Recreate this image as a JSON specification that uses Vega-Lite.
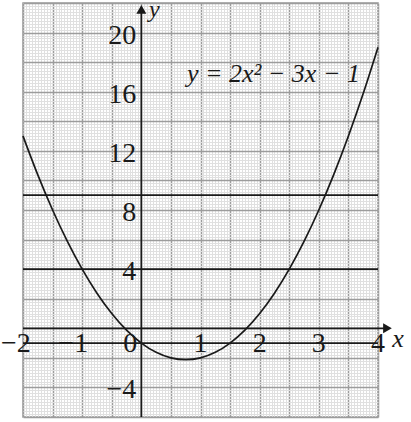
{
  "$schema": "https://vega.github.io/schema/vega-lite/v6.json",
  "width": 355,
  "height": 414,
  "autosize": "none",
  "padding": {"left": 23, "top": 3, "right": 33, "bottom": 5},
  "background": "white",
  "config": {
    "view": {"stroke": "#9c9c9c", "strokeWidth": 1.5},
    "font": "Liberation Serif"
  },
  "data": {"values": [{}]},
  "datasets": {
    "curve": [
      {"x": -2, "y": 13}, {"x": -1.75, "y": 10.375}, {"x": -1.5, "y": 8}, {"x": -1.25, "y": 5.875},
      {"x": -1, "y": 4}, {"x": -0.75, "y": 2.375}, {"x": -0.5, "y": 1}, {"x": -0.25, "y": -0.125},
      {"x": 0, "y": -1}, {"x": 0.25, "y": -1.625}, {"x": 0.5, "y": -2}, {"x": 0.75, "y": -2.125},
      {"x": 1, "y": -2}, {"x": 1.25, "y": -1.625}, {"x": 1.5, "y": -1}, {"x": 1.75, "y": -0.125},
      {"x": 2, "y": 1}, {"x": 2.25, "y": 2.375}, {"x": 2.5, "y": 4}, {"x": 2.75, "y": 5.875},
      {"x": 3, "y": 8}, {"x": 3.25, "y": 10.375}, {"x": 3.5, "y": 13}, {"x": 3.75, "y": 15.875},
      {"x": 4, "y": 19}
    ],
    "hlines": [{"y": 9}, {"y": 4}, {"y": -1}],
    "xlabels": [
      {"v": -2, "t": "−2"}, {"v": -1, "t": "−1"}, {"v": 0, "t": "0"},
      {"v": 1, "t": "1"}, {"v": 2, "t": "2"}, {"v": 3, "t": "3"}, {"v": 4, "t": "4"}
    ],
    "ylabels": [
      {"v": 20, "t": "20"}, {"v": 16, "t": "16"}, {"v": 12, "t": "12"},
      {"v": 8, "t": "8"}, {"v": 4, "t": "4"}, {"v": -4, "t": "−4"}
    ]
  },
  "layer": [
    {
      "data": {"name": "curve"},
      "mark": {"type": "line", "opacity": 0},
      "encoding": {
        "x": {"field": "x", "type": "quantitative",
          "scale": {"domain": [-2, 4], "nice": false, "zero": false},
          "axis": {"tickCount": 120, "grid": true, "gridColor": "#e0e0e0", "gridWidth": 1,
            "labels": false, "ticks": false, "domain": false, "title": null}},
        "y": {"field": "y", "type": "quantitative",
          "scale": {"domain": [-6, 22], "nice": false, "zero": false},
          "axis": {"tickCount": 140, "grid": true, "gridColor": "#e0e0e0", "gridWidth": 1,
            "labels": false, "ticks": false, "domain": false, "title": null}}
      }
    },
    {
      "data": {"name": "curve"},
      "mark": {"type": "line", "opacity": 0},
      "encoding": {
        "x": {"field": "x", "type": "quantitative",
          "axis": {"tickCount": 12, "grid": true, "gridColor": "#9c9c9c", "gridWidth": 1.5,
            "labels": false, "ticks": false, "domain": false, "title": null}},
        "y": {"field": "y", "type": "quantitative",
          "axis": {"tickCount": 14, "grid": true, "gridColor": "#9c9c9c", "gridWidth": 1.5,
            "labels": false, "ticks": false, "domain": false, "title": null}}
      }
    },
    {
      "data": {"name": "hlines"},
      "mark": {"type": "rule", "color": "#1a1a1a", "strokeWidth": 1.7},
      "encoding": {
        "y": {"field": "y", "type": "quantitative", "axis": null},
        "x": {"datum": -2, "axis": null},
        "x2": {"datum": 4}
      }
    },
    {
      "mark": {"type": "rule", "color": "#1a1a1a", "strokeWidth": 1.7},
      "encoding": {
        "y": {"datum": 0, "axis": null},
        "x": {"datum": -2, "axis": null},
        "x2": {"datum": 4.1}
      }
    },
    {
      "mark": {"type": "rule", "color": "#1a1a1a", "strokeWidth": 1.7},
      "encoding": {
        "x": {"datum": 0, "axis": null},
        "y": {"datum": -6, "axis": null},
        "y2": {"datum": 21.5}
      }
    },
    {
      "mark": {"type": "point", "shape": "triangle-right", "size": 100, "filled": true, "color": "#1a1a1a", "opacity": 1},
      "encoding": {
        "x": {"datum": 4.16, "axis": null},
        "y": {"datum": 0, "axis": null}
      }
    },
    {
      "mark": {"type": "point", "shape": "triangle-up", "size": 100, "filled": true, "color": "#1a1a1a", "opacity": 1},
      "encoding": {
        "x": {"datum": 0, "axis": null},
        "y": {"datum": 21.57, "axis": null}
      }
    },
    {
      "data": {"name": "curve"},
      "mark": {"type": "line", "color": "#1a1a1a", "strokeWidth": 1.7, "interpolate": "monotone"},
      "encoding": {
        "x": {"field": "x", "type": "quantitative", "axis": null},
        "y": {"field": "y", "type": "quantitative", "axis": null}
      }
    },
    {
      "data": {"name": "xlabels"},
      "transform": [{"filter": "datum.v == -2"}],
      "mark": {"type": "text", "align": "left", "baseline": "middle", "dx": -22, "dy": 1, "fontSize": 28, "color": "#1a1a1a"},
      "encoding": {
        "x": {"field": "v", "type": "quantitative", "axis": null},
        "y": {"datum": -1, "axis": null},
        "text": {"field": "t"}
      }
    },
    {
      "data": {"name": "xlabels"},
      "transform": [{"filter": "datum.v == -1"}],
      "mark": {"type": "text", "align": "right", "baseline": "middle", "dx": 6, "dy": 1, "fontSize": 28, "color": "#1a1a1a"},
      "encoding": {
        "x": {"field": "v", "type": "quantitative", "axis": null},
        "y": {"datum": -1, "axis": null},
        "text": {"field": "t"}
      }
    },
    {
      "data": {"name": "xlabels"},
      "transform": [{"filter": "datum.v == 0"}],
      "mark": {"type": "text", "align": "right", "baseline": "middle", "dx": -4, "dy": 1, "fontSize": 28, "color": "#1a1a1a"},
      "encoding": {
        "x": {"field": "v", "type": "quantitative", "axis": null},
        "y": {"datum": -1, "axis": null},
        "text": {"field": "t"}
      }
    },
    {
      "data": {"name": "xlabels"},
      "transform": [{"filter": "datum.v > 0"}],
      "mark": {"type": "text", "align": "center", "baseline": "middle", "dy": 1, "fontSize": 28, "color": "#1a1a1a"},
      "encoding": {
        "x": {"field": "v", "type": "quantitative", "axis": null},
        "y": {"datum": -1, "axis": null},
        "text": {"field": "t"}
      }
    },
    {
      "data": {"name": "ylabels"},
      "mark": {"type": "text", "align": "right", "baseline": "middle", "dx": -5, "dy": 3, "fontSize": 28, "color": "#1a1a1a"},
      "encoding": {
        "x": {"datum": 0, "axis": null},
        "y": {"field": "v", "type": "quantitative", "axis": null},
        "text": {"field": "t"}
      }
    },
    {
      "mark": {"type": "text", "align": "left", "baseline": "alphabetic", "fontSize": 26, "fontStyle": "italic", "color": "#1a1a1a"},
      "encoding": {
        "x": {"datum": 0.77, "axis": null},
        "y": {"datum": 16.67, "axis": null},
        "text": {"value": "y = 2x² − 3x − 1"}
      }
    },
    {
      "mark": {"type": "text", "align": "left", "baseline": "alphabetic", "fontSize": 24, "fontStyle": "italic", "color": "#1a1a1a"},
      "encoding": {
        "x": {"datum": 0.13, "axis": null},
        "y": {"datum": 21.05, "axis": null},
        "text": {"value": "y"}
      }
    },
    {
      "mark": {"type": "text", "align": "left", "baseline": "alphabetic", "fontSize": 26, "fontStyle": "italic", "color": "#1a1a1a"},
      "encoding": {
        "x": {"datum": 4.24, "axis": null},
        "y": {"datum": -1.27, "axis": null},
        "text": {"value": "x"}
      }
    }
  ],
  "resolve": {"axis": {"x": "independent", "y": "independent"}}
}
